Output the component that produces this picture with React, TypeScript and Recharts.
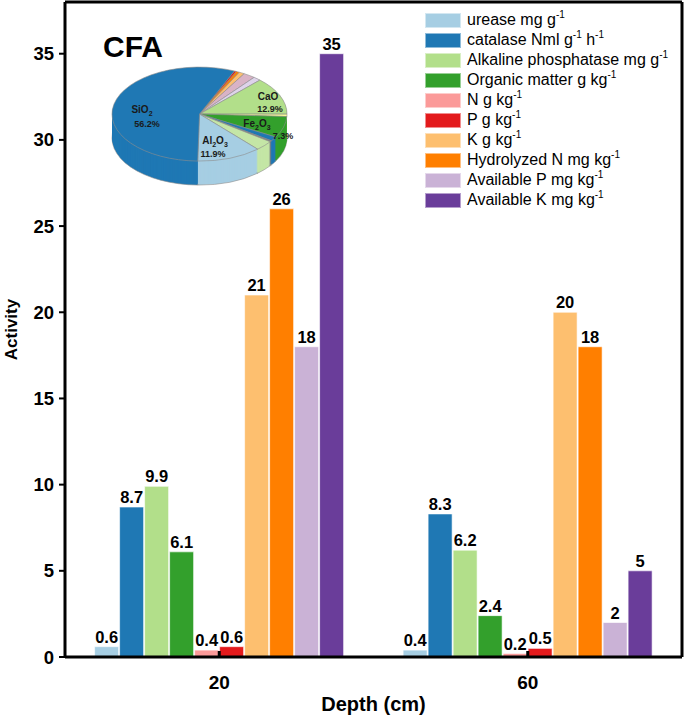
import React from 'react';
import { BarChart, Bar, XAxis, YAxis, LabelList, Legend, PieChart, Pie, Cell } from 'recharts';

// ---- Bar chart data ----
const depths = ['20', '60'];
const seriesKeys = [
  'urease', 'catalase', 'alkaline', 'organic', 'nitrogen',
  'phosphorus', 'potassium', 'hydrolyzedN', 'availableP', 'availableK',
];
const seriesColors = [
  '#a6cee3', '#1f78b4', '#b2df8a', '#33a02c', '#fb9a99',
  '#e31a1c', '#fdbf6f', '#ff7f00', '#cab2d6', '#6a3d9a',
];
// legend text as [text, superscript, text, superscript, ...]
const seriesLabels: string[][] = [
  ['urease mg g', '-1'],
  ['catalase Nml g', '-1', ' h', '-1'],
  ['Alkaline phosphatase mg g', '-1'],
  ['Organic matter g kg', '-1'],
  ['N g kg', '-1'],
  ['P g kg', '-1'],
  ['K g kg', '-1'],
  ['Hydrolyzed N mg kg', '-1'],
  ['Available P mg kg', '-1'],
  ['Available K mg kg', '-1'],
];
const depth20Values = [0.6, 8.7, 9.9, 6.1, 0.4, 0.6, 21, 26, 18, 35];
const depth60Values = [0.4, 8.3, 6.2, 2.4, 0.2, 0.5, 20, 18, 2, 5];
const yTicks = [0, 5, 10, 15, 20, 25, 30, 35];
const yMax = 38;

// ---- CFA composition pie data (clockwise from the upper boundary of SiO2) ----
const oxideNames = [
  'minor-a', 'minor-b', 'minor-c', 'minor-d', 'minor-e',
  'CaO', 'minor-f', 'Fe2O3', 'minor-g', 'minor-h', 'minor-i', 'Al2O3', 'SiO2',
];
const oxideShares = [0.4, 0.6, 1.0, 2.2, 1.4, 12.9, 0.8, 7.3, 1.5, 0.4, 3.4, 11.9, 56.2];
const oxideColors = [
  '#e31a1c', '#ff7f00', '#fdbf6f', '#d9b3c6', '#ded3ea',
  '#b2df8a', '#ffff99', '#33a02c', '#1f78b4', '#7f7f7f', '#c4e6a6', '#a6cee3', '#1f78b4',
];

const FONT = '"Liberation Sans", Arial, Helvetica, sans-serif';

const barData = depths.map((depth, i) => {
  const values = i === 0 ? depth20Values : depth60Values;
  const row: Record<string, string | number> = { depth };
  seriesKeys.forEach((k, j) => {
    row[k] = values[j];
  });
  return row;
});

const oxideData = oxideNames.map((name, i) => ({ name, share: oxideShares[i] }));

// ---- axis pieces ----
const DepthTick = (props: any) => {
  const { x, y, payload } = props;
  return (
    <g>
      <line x1={x} x2={x} y1={y} y2={y - 6} stroke="#000" strokeWidth={3} />
      <text x={x} y={y + 32} textAnchor="middle" fontFamily={FONT} fontWeight="bold" fontSize={19} fill="#000">
        {payload.value}
      </text>
    </g>
  );
};

const YTitle = (props: any) => {
  const vb = props.viewBox || { y: 2, height: 655 };
  const cy = vb.y + vb.height / 2;
  return (
    <text x={17} y={cy} transform={`rotate(-90, 17, ${cy})`} textAnchor="middle"
      fontFamily={FONT} fontWeight="bold" fontSize={17} fill="#000">
      Activity
    </text>
  );
};

const XTitle = (props: any) => {
  const vb = props.viewBox || { x: 66, width: 616 };
  const cx = vb.x + vb.width / 2;
  return (
    <text x={cx} y={711} textAnchor="middle" fontFamily={FONT} fontWeight="bold" fontSize={20} fill="#000">
      Depth (cm)
    </text>
  );
};

const renderLegend = (props: any) => {
  const payload: any[] = [...(props.payload || [])].sort(
    (a, b) => seriesKeys.indexOf(a.dataKey) - seriesKeys.indexOf(b.dataKey),
  );
  return (
    <div style={{ fontFamily: FONT, fontSize: 16, color: '#000', textAlign: 'left' }}>
      {payload.map((entry) => {
        const idx = seriesKeys.indexOf(entry.dataKey);
        const parts = seriesLabels[idx] || [String(entry.value)];
        return (
          <div key={entry.dataKey} style={{ display: 'flex', alignItems: 'center', height: 20 }}>
            <span style={{ display: 'inline-block', width: 36, height: 15, background: entry.color, boxShadow: 'inset 0 0 0 1px rgba(255,255,255,0.5)' }} />
            <span style={{ marginLeft: 6, whiteSpace: 'nowrap', lineHeight: '20px' }}>
              {parts.map((p, k) =>
                k % 2 === 1 ? (
                  <sup key={k} style={{ fontSize: 10, lineHeight: 0, verticalAlign: 0, position: 'relative', top: -7 }}>{p}</sup>
                ) : (
                  <span key={k}>{p}</span>
                ),
              )}
            </span>
          </div>
        );
      })}
    </div>
  );
};

// ---- pseudo 3D pie ----
const PIE_RX = 87.5;
const PIE_RY = 47;
const PIE_DEPTH = 24;
const PIE_CX = 199;
const PIE_CY = 114;
const squash = PIE_RY / PIE_RX;
const PIE_BOX = Math.ceil(PIE_RX * 2 + 4);

function PieLayer({ offset, face }: { offset: number; face: 'top' | 'side' | 'bottom' }) {
  const stroke = face === 'side' ? 'none' : '#8f8f8f';
  return (
    <div
      style={{
        position: 'absolute',
        left: PIE_CX - PIE_BOX / 2,
        top: PIE_CY - (PIE_BOX / 2) * squash + offset,
        width: PIE_BOX,
        height: PIE_BOX,
        transform: `scaleY(${squash})`,
        transformOrigin: 'top left',
      }}
    >
      <PieChart width={PIE_BOX} height={PIE_BOX} margin={{ top: 0, right: 0, bottom: 0, left: 0 }}>
        <Pie
          data={oxideData}
          dataKey="share"
          nameKey="name"
          cx="50%"
          cy="50%"
          innerRadius={0}
          outerRadius={PIE_RX}
          startAngle={66.5}
          endAngle={-293.5}
          stroke={stroke}
          strokeWidth={face === 'side' ? 0 : 0.8}
          isAnimationActive={false}
        >
          {oxideData.map((d, i) => (
            <Cell key={d.name} fill={oxideColors[i]} />
          ))}
        </Pie>
      </PieChart>
    </div>
  );
}

// formula label: base parts each followed by an optional subscript
function OxideLabel({ x, y, parts }: { x: number; y: number; parts: [string, string][] }) {
  const nodes: React.ReactNode[] = [];
  let shifted = false;
  parts.forEach(([base, sub], i) => {
    nodes.push(<tspan key={`b${i}`} dy={shifted ? -3 : 0}>{base}</tspan>);
    shifted = false;
    if (sub) {
      nodes.push(<tspan key={`s${i}`} fontSize={7} dy={3}>{sub}</tspan>);
      shifted = true;
    }
  });
  return (
    <text x={x} y={y} textAnchor="middle" fontFamily={FONT} fontWeight="bold" fontSize={10} fill="#1a1a1a">
      {nodes}
    </text>
  );
}

function share(name: string) {
  return `${oxideShares[oxideNames.indexOf(name)]}%`;
}

function PctLabel({ x, y, name }: { x: number; y: number; name: string }) {
  return (
    <text x={x} y={y} textAnchor="middle" fontFamily={FONT} fontWeight="bold" fontSize={9} fill="#1a1a1a">
      {share(name)}
    </text>
  );
}

function CompositionPie() {
  const layers = [];
  for (let k = PIE_DEPTH; k >= 1; k--) {
    layers.push(<PieLayer key={k} offset={k} face={k === PIE_DEPTH ? 'bottom' : 'side'} />);
  }
  layers.push(<PieLayer key={0} offset={0} face="top" />);
  return (
    <>
      {layers}
      <svg width={685} height={716} style={{ position: 'absolute', left: 0, top: 0, pointerEvents: 'none' }}>
        <text x={103} y={57} fontFamily={FONT} fontWeight="bold" fontSize={30} fill="#000">CFA</text>
        <OxideLabel x={142} y={113} parts={[['SiO', '2']]} />
        <PctLabel x={147} y={127} name="SiO2" />
        <OxideLabel x={268} y={100} parts={[['CaO', '']]} />
        <PctLabel x={270} y={112} name="CaO" />
        <OxideLabel x={257} y={127} parts={[['Fe', '2'], ['O', '3']]} />
        <PctLabel x={283} y={139} name="Fe2O3" />
        <OxideLabel x={215} y={144} parts={[['Al', '2'], ['O', '3']]} />
        <PctLabel x={213} y={157} name="Al2O3" />
      </svg>
    </>
  );
}

export default function App() {
  return (
    <div style={{ position: 'absolute', left: 0, top: 0, width: 685, height: 716, background: '#fff', fontFamily: FONT }}>
      <BarChart
        width={685}
        height={716}
        data={barData}
        margin={{ top: 1, right: 2, bottom: 0, left: 0 }}
        barCategoryGap="9.6%"
        barGap={1}
      >
        <XAxis
          dataKey="depth"
          height={59}
          tickSize={0}
          tickMargin={0}
          tick={<DepthTick />}
          axisLine={{ stroke: '#000', strokeWidth: 3 }}
          tickLine={false}
          label={<XTitle />}
        />
        <XAxis xAxisId="top" dataKey="depth" orientation="top" height={1} tick={false} tickLine={false}
          axisLine={{ stroke: '#000', strokeWidth: 3 }} />
        <YAxis
          width={65}
          domain={[0, yMax]}
          ticks={yTicks}
          tickSize={6}
          tickMargin={5}
          tickLine={{ stroke: '#000', strokeWidth: 2 }}
          axisLine={{ stroke: '#000', strokeWidth: 3 }}
          tick={{ fill: '#000', fontSize: 18.5, fontWeight: 'bold', fontFamily: FONT }}
          label={<YTitle />}
        />
        <YAxis yAxisId="right" orientation="right" width={1} domain={[0, yMax]} tick={false} tickLine={false}
          axisLine={{ stroke: '#000', strokeWidth: 3 }} />
        <Legend
          layout="horizontal"
          verticalAlign="middle"
          align="center"
          content={renderLegend}
          wrapperStyle={{ position: 'absolute', left: 425, top: 10, width: 258, right: 'auto', bottom: 'auto' }}
        />
        {seriesKeys.map((key, i) => (
          <Bar
            key={key}
            dataKey={key}
            name={seriesLabels[i].join('')}
            fill={seriesColors[i]}
            stroke="#ffffff"
            strokeWidth={0.6}
            isAnimationActive={false}
          >
            <LabelList dataKey={key} position="top" offset={4} fill="#000" fontSize={16.5} fontWeight="bold" fontFamily={FONT} />
          </Bar>
        ))}
      </BarChart>
      <CompositionPie />
    </div>
  );
}
